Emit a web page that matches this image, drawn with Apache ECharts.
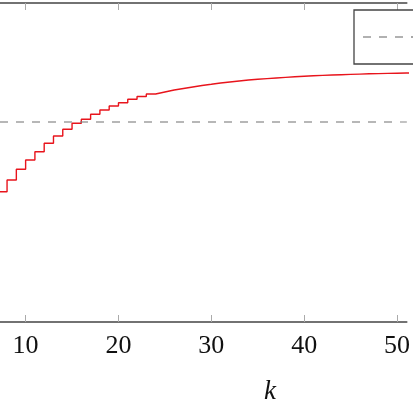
<!DOCTYPE html>
<html><head><meta charset="utf-8">
<script src="https://cdn.jsdelivr.net/npm/echarts@6/dist/echarts.min.js"></script>
<style>html,body{margin:0;padding:0;background:#fff}#c{width:413px;height:413px}</style>
</head><body><div id="c"></div>
<script>
const ks = [7,8,9,10,11,12,13,14,15,16,17,18,19,20,21,22,23,24,25,26,27,28,29,30,31,32,33,34,35,36,37,38,39,40,41,42,43,44,45,46,47,48,49,50,51,52];
const vals = [130.3,142,152.7,162,170.3,178.7,186,192.7,198.7,202.7,207.7,212,216,219.3,222.7,225.5,228,230,232,233.5,235,236.5,237.7,239,240,241,242,242.7,243.4,244,244.6,245.2,245.7,246.2,246.6,247,247.3,247.6,247.9,248.2,248.4,248.6,248.8,249,249.2,249.3];
const refLevel = 200;
const tickVals = [10,20,30,40,50];
const xName = 'k';

const chart = echarts.init(document.getElementById('c'));
const font = 'Liberation Serif';
chart.setOption({
  animation:false,
  grid:{left:0,right:0,top:3,bottom:91},
  xAxis:[{
    type:'value',min:7.24,max:51.06,
    axisLine:{lineStyle:{color:'#444',width:1.5}},
    axisTick:{inside:true,length:7,customValues:tickVals,lineStyle:{color:'#aaa'}},
    axisLabel:{customValues:tickVals,fontFamily:font,fontSize:26,color:'#111',margin:11,
      alignMinLabel:'center',alignMaxLabel:'center'},
    splitLine:{show:false}
  },{
    type:'value',min:7.24,max:51.06,position:'top',
    axisLine:{lineStyle:{color:'#444',width:1.5}},
    axisTick:{inside:true,length:7,customValues:tickVals,lineStyle:{color:'#aaa'}},
    axisLabel:{show:false},splitLine:{show:false}
  }],
  yAxis:{type:'value',min:0,max:319,show:false,splitLine:{show:false}},
  graphic:[
    {type:'rect',shape:{x:354,y:10,width:80,height:54},style:{fill:'#fff',stroke:'#444',lineWidth:1.3},z:100},
    {type:'line',shape:{x1:363,y1:37,x2:413,y2:37},style:{stroke:'#888',lineWidth:1.3,lineDash:[8,8]},z:101},
    {type:'text',x:270,y:392,style:{text:xName,font:'italic 27px "Liberation Serif"',fill:'#111',align:'center',verticalAlign:'middle'}}
  ],
  series:[
    {type:'line',data:ks.map((k,i)=>[k,vals[i]]),step:'end',showSymbol:false,
     lineStyle:{color:'#e8141c',width:1.4}},
    {type:'line',data:[[7.24,refLevel],[51.06,refLevel]],showSymbol:false,
     lineStyle:{color:'#888',width:1.2,type:[8,8]}}
  ]
});
</script></body></html>
